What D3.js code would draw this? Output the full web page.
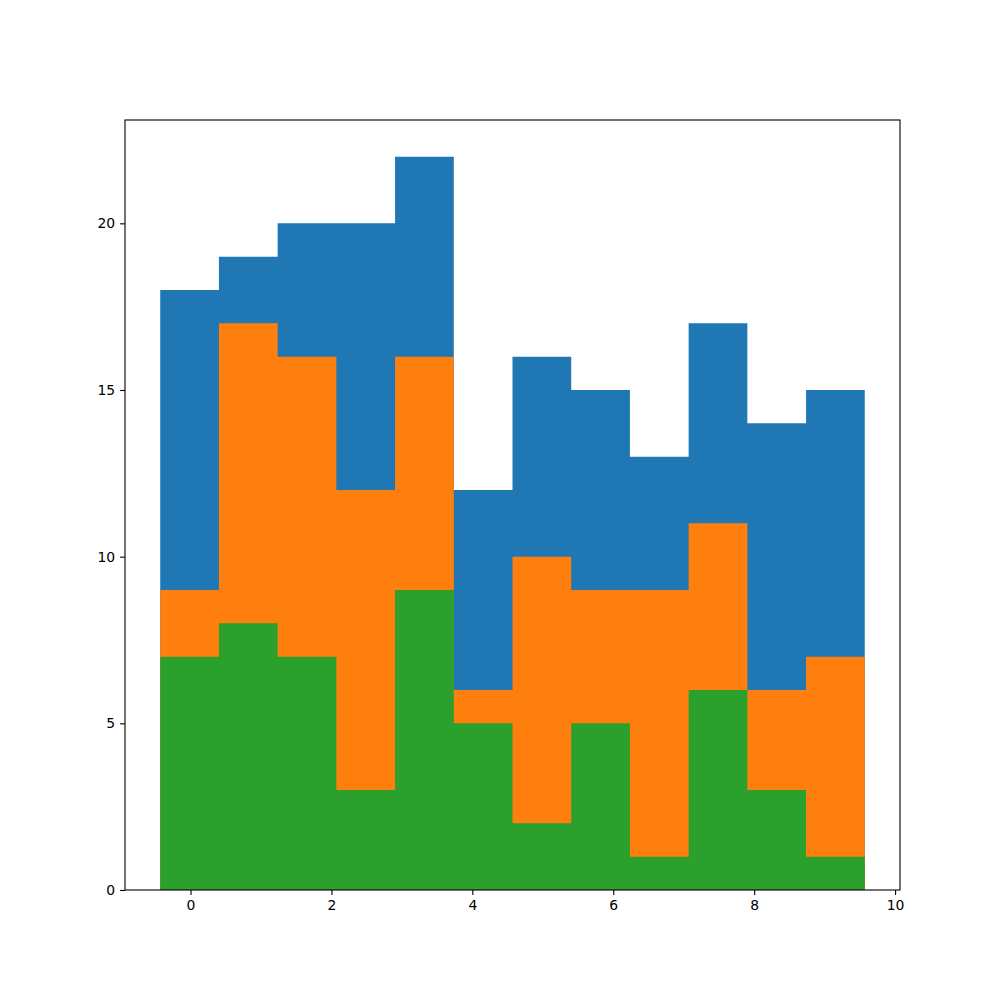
<!DOCTYPE html>
<html>
<head>
<meta charset="utf-8">
<script src="https://cdn.jsdelivr.net/npm/d3@7"></script>
<style>
  body { margin: 0; background: #fff; }
  text { font-family: "DejaVu Sans", sans-serif; }
</style>
</head>
<body>
<div id="chart"></div>
<script>
// histogram counts per bin, 12 bins from -0.43 to 9.57
const binStart = -0.43;
const binEnd = 9.57;
const seriesA = [18, 19, 20, 20, 22, 12, 16, 15, 13, 17, 14, 15];
const seriesB = [9, 17, 16, 12, 16, 6, 10, 9, 9, 11, 6, 7];
const seriesC = [7, 8, 7, 3, 9, 5, 2, 5, 1, 6, 3, 1];
const colors = ["#1f77b4", "#ff7f0e", "#2ca02c"];
const xTicks = [0, 2, 4, 6, 8, 10];
const yTicks = [0, 5, 10, 15, 20];

const W = 1000, H = 1000;
const margin = { top: 120, right: 100, bottom: 110, left: 125 };

const svg = d3.select("#chart").append("svg")
  .attr("width", W).attr("height", H);

const nBins = seriesA.length;
const bw = (binEnd - binStart) / nBins;
const pad = (binEnd - binStart) * 0.05;

const x = d3.scaleLinear()
  .domain([binStart - pad, binEnd + pad])
  .range([margin.left, W - margin.right]);

const yMax = d3.max(seriesA.concat(seriesB, seriesC)) * 1.05;
const y = d3.scaleLinear()
  .domain([0, yMax])
  .range([H - margin.bottom, margin.top]);

const area = d3.area()
  .curve(d3.curveStepAfter)
  .x(d => x(d.x))
  .y0(y(0))
  .y1(d => y(d.v));

[seriesA, seriesB, seriesC].forEach((s, i) => {
  const pts = s.map((v, k) => ({ x: binStart + k * bw, v: v }));
  pts.push({ x: binEnd, v: s[s.length - 1] });
  svg.append("path")
    .datum(pts)
    .attr("fill", colors[i])
    .attr("d", area);
});

// axes
const xAxis = d3.axisBottom(x).tickValues(xTicks).tickSize(4.9).tickPadding(4.9);
const yAxis = d3.axisLeft(y).tickValues(yTicks).tickSize(4.9).tickPadding(4.9);

const gx = svg.append("g")
  .attr("transform", "translate(0," + (H - margin.bottom) + ")")
  .call(xAxis);
const gy = svg.append("g")
  .attr("transform", "translate(" + margin.left + ",0)")
  .call(yAxis);

[gx, gy].forEach(g => {
  g.select(".domain").remove();
  g.selectAll("text").attr("font-size", "13.9px").attr("fill", "#000")
    .style("font-family", "'DejaVu Sans', sans-serif");
  g.selectAll("line").attr("stroke", "#000").attr("stroke-width", 1.1);
});

// frame
svg.append("rect")
  .attr("x", margin.left).attr("y", margin.top)
  .attr("width", W - margin.left - margin.right)
  .attr("height", H - margin.top - margin.bottom)
  .attr("fill", "none").attr("stroke", "#000").attr("stroke-width", 1.1);
</script>
</body>
</html>
